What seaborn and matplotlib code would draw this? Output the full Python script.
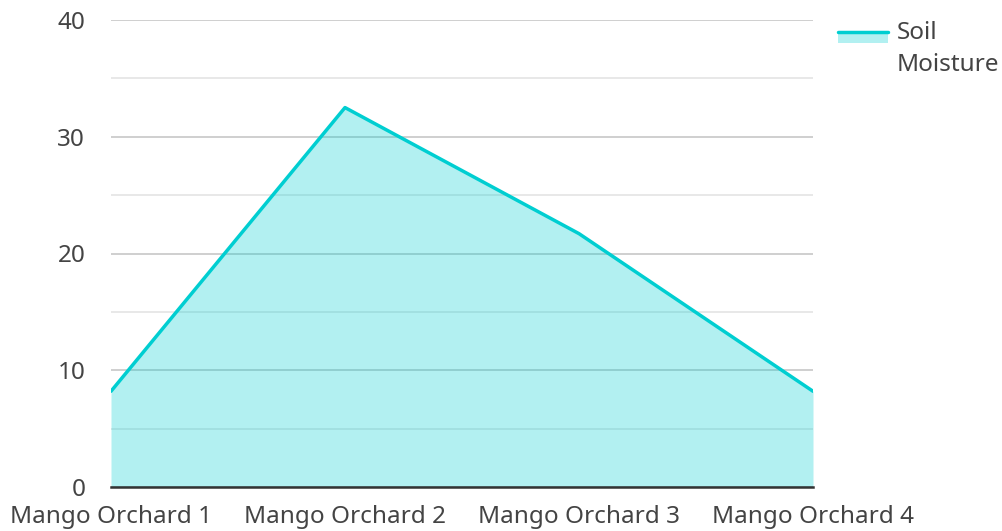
import matplotlib
matplotlib.use("Agg")
import matplotlib.pyplot as plt
import seaborn as sns
import pandas as pd
from matplotlib.patches import Rectangle
from matplotlib.lines import Line2D

categories = ["Mango Orchard 1", "Mango Orchard 2", "Mango Orchard 3", "Mango Orchard 4"]
soil_moisture = [8.2, 32.5, 21.7, 8.2]
y_ticks = [0, 10, 20, 30, 40]
series_name = "Soil Moisture"

sns.set_theme(style="white")
plt.rcParams["font.family"] = ["Noto Sans", "DejaVu Sans"]

df = pd.DataFrame({"x": range(len(categories)), "y": soil_moisture})

fig = plt.figure(figsize=(10.03, 5.31), dpi=100)
ax = fig.add_axes([111/1003, 44/531, (813-111)/1003, (487-20)/531])

line_color = "#00CED1"
fs = 17.5
ax.fill_between(df["x"], 0, df["y"], color=line_color, alpha=0.3, linewidth=0, zorder=2)
sns.lineplot(data=df, x="x", y="y", ax=ax, color=line_color, linewidth=2.5, zorder=3)

ax.set_xlim(0, len(categories) - 1)
ax.set_ylim(0, 40)
ax.set_yticks(y_ticks)
ax.set_yticks([5, 15, 25, 35], minor=True)
ax.set_xticks(range(len(categories)))
ax.set_xticklabels(categories)
ax.grid(axis="y", which="major", color="#cccccc", linewidth=1.3, zorder=1)
ax.grid(axis="y", which="minor", color="#e6e6e6", linewidth=1.3, zorder=1)
ax.set_axisbelow(True)
for s in ["top", "right", "left"]:
    ax.spines[s].set_visible(False)
ax.spines["bottom"].set_color("#333333")
ax.spines["bottom"].set_linewidth(1.8)
ax.spines["bottom"].set_zorder(4)
ax.tick_params(axis="both", which="both", length=0, labelsize=fs, colors="#444444")
ax.tick_params(axis="y", pad=18.5)
ax.tick_params(axis="x", pad=13)
ax.set_xlabel("")
ax.set_ylabel("")

# legend
fig.add_artist(Rectangle((838/1003, 1-43/531), 50/1003, 11/531, transform=fig.transFigure,
                         facecolor=line_color, alpha=0.3, linewidth=0))
fig.add_artist(Line2D([838/1003, 888/1003], [1-32/531, 1-32/531], transform=fig.transFigure,
                      color=line_color, linewidth=2.5))
fig.text(897/1003, 1-21/531, "Soil\nMoisture", fontsize=fs, color="#444444",
         va="top", ha="left", linespacing=1.42)

fig.savefig("out.png", dpi=100)
